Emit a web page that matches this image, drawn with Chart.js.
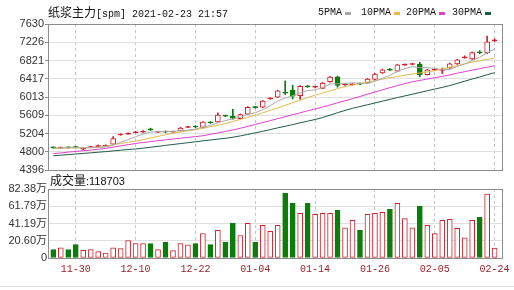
<!DOCTYPE html>
<html>
<head>
<meta charset="utf-8">
<title>纸浆主力 spm</title>
<script src="https://cdn.jsdelivr.net/npm/chart.js@4.4.1/dist/chart.umd.min.js"></script>
<style>
  html, body { margin: 0; padding: 0; background: #fff; }
  #wrap { position: relative; width: 514px; height: 290px; overflow: hidden; }
  canvas { position: absolute; left: 0; }
  #priceChart { top: 0; }
  #volChart { top: 180px; }
  .txt { position: absolute; white-space: nowrap; color: #111; line-height: 14px; }
  .cn { font-family: "Noto Sans CJK SC", sans-serif; font-size: 12px; }
  .mono { font-family: "Liberation Mono", monospace; font-size: 10px; }
  .num { font-family: "Liberation Sans", sans-serif; font-size: 11px; }
  .sw { position: absolute; width: 6px; height: 3px; }
  #foot { position: absolute; left: 0; top: 286px; width: 514px; height: 1px; background: #dedede; }
</style>
</head>
<body>
<div id="wrap">
  <canvas id="priceChart" width="514" height="180"></canvas>
  <canvas id="volChart" width="514" height="110"></canvas>
  <div class="txt" style="left:48px; top:5px;"><span class="cn">纸浆主力</span><span class="mono">[spm] 2021-02-23 21:57</span></div>
  <div id="legend"></div>
  <div class="txt" style="left:50px; top:173px;"><span class="cn">成交量</span><span class="num">:118703</span></div>
  <div id="foot"></div>
</div>
<script>
// trading days shown on the chart
const dates = [
  "2020-11-25", "2020-11-26", "2020-11-27", "2020-11-30", "2020-12-01", "2020-12-02",
  "2020-12-03", "2020-12-04", "2020-12-07", "2020-12-08", "2020-12-09", "2020-12-10",
  "2020-12-11", "2020-12-14", "2020-12-15", "2020-12-16", "2020-12-17", "2020-12-18",
  "2020-12-21", "2020-12-22", "2020-12-23", "2020-12-24", "2020-12-25", "2020-12-28",
  "2020-12-29", "2020-12-30", "2020-12-31", "2021-01-04", "2021-01-05", "2021-01-06",
  "2021-01-07", "2021-01-08", "2021-01-11", "2021-01-12", "2021-01-13", "2021-01-14",
  "2021-01-15", "2021-01-18", "2021-01-19", "2021-01-20", "2021-01-21", "2021-01-22",
  "2021-01-25", "2021-01-26", "2021-01-27", "2021-01-28", "2021-01-29", "2021-02-01",
  "2021-02-02", "2021-02-03", "2021-02-04", "2021-02-05", "2021-02-08", "2021-02-09",
  "2021-02-10", "2021-02-18", "2021-02-19", "2021-02-22", "2021-02-23", "2021-02-24",
];

const opens = [
  4900, 4880, 4900, 4905, 4858, 4895, 4915, 4922, 4970, 5172, 5190, 5222,
  5232, 5300, 5232, 5250, 5232, 5262, 5338, 5362, 5340, 5458, 5460, 5602,
  5592, 5535, 5630, 5792, 5785, 5970, 6010, 6118, 6165, 6040, 6252, 6228,
  6205, 6350, 6460, 6278, 6280, 6312, 6325, 6400, 6545, 6626, 6585, 6716,
  6732, 6740, 6510, 6606, 6604, 6655, 6745, 6880, 6855, 7008, 6990, 7255,
];
const highs = [
  4910, 4905, 4908, 4920, 4880, 4920, 4950, 4955, 5135, 5200, 5222, 5255,
  5268, 5322, 5252, 5262, 5256, 5342, 5366, 5376, 5466, 5468, 5665, 5612,
  5740, 5640, 5800, 5808, 5935, 5995, 6165, 6370, 6275, 6265, 6268, 6255,
  6335, 6470, 6475, 6305, 6310, 6322, 6425, 6535, 6630, 6645, 6740, 6745,
  6760, 6780, 6625, 6635, 6655, 6765, 6850, 6925, 7010, 7040, 7365, 7300,
];
const lows = [
  4875, 4872, 4880, 4885, 4845, 4888, 4910, 4915, 4960, 5165, 5185, 5215,
  5228, 5268, 5225, 5222, 5228, 5255, 5332, 5334, 5330, 5425, 5450, 5575,
  5520, 5525, 5620, 5765, 5775, 5962, 6000, 6070, 5970, 5960, 6225, 6215,
  6195, 6340, 6230, 6270, 6275, 6285, 6315, 6390, 6535, 6595, 6575, 6710,
  6725, 6460, 6500, 6600, 6530, 6645, 6735, 6870, 6845, 6970, 6975, 7240,
];
const closes = [
  4885, 4895, 4888, 4893, 4870, 4910, 4930, 4936, 5090, 5190, 5206, 5240,
  5246, 5284, 5245, 5236, 5246, 5322, 5354, 5348, 5455, 5442, 5615, 5588,
  5545, 5625, 5785, 5778, 5920, 5988, 6150, 6100, 6030, 6250, 6238, 6242,
  6320, 6455, 6270, 6292, 6296, 6298, 6410, 6520, 6615, 6610, 6725, 6732,
  6746, 6510, 6615, 6622, 6620, 6750, 6835, 6900, 6995, 6994, 7235, 7270,
];
const volumes = [
  100000, 120000, 100000, 160000, 92000, 100000, 76000, 60000, 120000, 112000, 209000, 172000,
  172000, 172000, 100000, 189000, 88000, 172000, 157000, 172000, 293000, 160000, 329000, 189000,
  413000, 269000, 413000, 189000, 389000, 317000, 389000, 775000, 654000, 534000, 654000, 522000,
  534000, 534000, 570000, 361000, 450000, 329000, 522000, 534000, 546000, 582000, 654000, 470000,
  361000, 618000, 389000, 293000, 450000, 462000, 353000, 241000, 450000, 486000, 763000, 118703,
];

// moving averages
const ma5 = [
  4885, 4887, 4889, 4891, 4887, 4891, 4898, 4907, 4946, 5011, 5071, 5132,
  5195, 5234, 5244, 5250, 5251, 5267, 5281, 5302, 5345, 5384, 5443, 5490,
  5529, 5563, 5632, 5665, 5731, 5819, 5924, 5989, 6039, 6104, 6154, 6172,
  6216, 6301, 6305, 6315, 6326, 6322, 6313, 6363, 6428, 6491, 6576, 6640,
  6685, 6664, 6665, 6644, 6622, 6623, 6688, 6745, 6820, 6895, 6990, 7077,
];
const ma10 = [
  4873, 4878, 4882, 4887, 4891, 4895, 4902, 4924, 4955, 4983, 5010, 5036,
  5070, 5105, 5140, 5175, 5210, 5240, 5262, 5285, 5320, 5355, 5388, 5421,
  5470, 5516, 5562, 5608, 5663, 5718, 5773, 5828, 5885, 5943, 6000, 6055,
  6101, 6149, 6198, 6244, 6277, 6310, 6343, 6376, 6407, 6438, 6466, 6497,
  6521, 6545, 6570, 6594, 6631, 6671, 6708, 6748, 6785, 6816, 6847, 6875,
];
const ma20 = [
  4759, 4774, 4792, 4807, 4823, 4838, 4854, 4876, 4902, 4931, 4957, 4983,
  5005, 5025, 5045, 5063, 5082, 5100, 5118, 5135, 5155, 5186, 5217, 5250,
  5283, 5320, 5362, 5404, 5448, 5489, 5533, 5577, 5621, 5663, 5707, 5749,
  5791, 5837, 5883, 5929, 5976, 6024, 6075, 6123, 6171, 6220, 6266, 6310,
  6350, 6380, 6411, 6440, 6471, 6501, 6541, 6574, 6607, 6640, 6673, 6706,
];
const ma30 = [
  4711, 4724, 4737, 4750, 4763, 4777, 4790, 4803, 4818, 4834, 4849, 4862,
  4880, 4900, 4920, 4942, 4961, 4981, 5001, 5021, 5041, 5060, 5080, 5098,
  5122, 5151, 5184, 5219, 5254, 5291, 5329, 5364, 5401, 5441, 5478, 5514,
  5558, 5610, 5665, 5716, 5762, 5802, 5841, 5881, 5921, 5960, 6000, 6037,
  6075, 6112, 6152, 6189, 6226, 6266, 6314, 6363, 6411, 6457, 6506, 6552,
];

const maNames = ["5PMA", "10PMA", "20PMA", "30PMA"];
const xTickIdx = [3, 11, 19, 27, 35, 43, 51, 59];
const priceTicks = [4396, 4800, 5204, 5609, 6013, 6417, 6821, 7226, 7630];
const volTicks = [0, 206000, 411900, 617900, 823800];
const volTickLabels = ["0", "20.60万", "41.19万", "61.79万", "82.38万"];

const UP = "#d0202a";
const DOWN = "#0a7d0a";
const maColors = ["#a9a9a9", "#e0bb4c", "#e03fcf", "#1f5a4a"];
const legendX = [318, 361, 406, 452];

const isUp = (i) => closes[i] >= opens[i];
const dirColor = (c) => (isUp(c.dataIndex || 0) ? UP : DOWN);
const pts = (arr) => arr.map((v, i) => ({ x: i, y: v }));

// legend: text followed by a small colour swatch
const legend = document.getElementById("legend");
maNames.forEach((name, k) => {
  const t = document.createElement("div");
  t.className = "txt mono";
  t.style.left = legendX[k] + "px";
  t.style.top = "6px";
  t.textContent = name;
  legend.appendChild(t);
  const sw = document.createElement("div");
  sw.className = "sw";
  sw.style.left = legendX[k] + name.length * 6 + 3 + "px";
  sw.style.top = "12px";
  sw.style.background = maColors[k];
  legend.appendChild(sw);
});

// grey frame around each plot area
const framePlugin = {
  id: "frame",
  afterDraw(chart) {
    const { ctx, chartArea: a } = chart;
    ctx.save();
    ctx.strokeStyle = "#8c8c8c";
    ctx.lineWidth = 1;
    ctx.strokeRect(a.left + 0.5, a.top + 0.5, a.right - a.left - 1, a.bottom - a.top);
    ctx.restore();
  },
};

const tickFont = { family: "'Liberation Sans', 'Noto Sans CJK SC', sans-serif", size: 11 };

function xScale(showLabels) {
  return {
    type: "linear",
    offset: false,
    min: -0.71,
    max: 60.12,
    afterBuildTicks: (s) => {
      s.ticks = xTickIdx.map((v) => ({ value: v }));
    },
    afterFit: (s) => {
      s.height = showLabels ? 20 : 0;
      s.paddingLeft = 0;
      s.paddingRight = 0;
    },
    ticks: {
      display: showLabels,
      autoSkip: false,
      maxRotation: 0,
      padding: 5,
      color: "#9b2226",
      font: { family: "'Liberation Mono', monospace", size: 10 },
      callback: (v) => dates[v].slice(5),
    },
    grid: { color: "#c4c4c4", drawTicks: false, offset: false },
    border: { display: false, dash: [3, 3] },
  };
}

const baseOptions = {
  responsive: false,
  animation: false,
  devicePixelRatio: 1,
  plugins: { legend: { display: false }, tooltip: { enabled: false } },
};

// price panel: candles + moving averages
new Chart(document.getElementById("priceChart"), {
  type: "bar",
  data: {
    datasets: [
      {
        data: dates.map((d, i) => ({ x: i, y: [lows[i], highs[i]] })),
        barThickness: 1,
        borderWidth: 0,
        grouped: false,
        backgroundColor: dirColor,
        order: 3,
      },
      {
        data: dates.map((d, i) => ({ x: i, y: [opens[i], closes[i]] })),
        barThickness: 5,
        borderWidth: 1,
        borderSkipped: false,
        minBarLength: 1,
        grouped: false,
        borderColor: dirColor,
        backgroundColor: (c) => {
          const i = c.dataIndex || 0;
          if (!isUp(i)) return DOWN;
          return Math.abs(closes[i] - opens[i]) < 45 ? UP : "#fff";
        },
        order: 2,
      },
      ...[ma5, ma10, ma20, ma30].map((arr, k) => ({
        type: "line",
        label: maNames[k],
        data: pts(arr),
        borderColor: maColors[k],
        borderWidth: 1,
        pointRadius: 0,
        tension: 0,
        order: 1,
      })),
    ],
  },
  options: {
    ...baseOptions,
    layout: { padding: { top: 24, right: 11, bottom: 10, left: 0 } },
    scales: {
      x: xScale(false),
      y: {
        min: 4396,
        max: 7630,
        afterBuildTicks: (s) => {
          s.ticks = priceTicks.map((v) => ({ value: v }));
        },
        afterFit: (s) => {
          s.width = 48;
        },
        ticks: { color: "#333", font: tickFont, padding: 1, callback: (v) => String(v) },
        grid: { color: "#e0e0e0", tickColor: "#8c8c8c", tickLength: 3 },
        border: { display: false },
      },
    },
  },
  plugins: [framePlugin],
});

// volume panel
new Chart(document.getElementById("volChart"), {
  type: "bar",
  data: {
    datasets: [
      {
        data: pts(volumes),
        barThickness: 5,
        borderWidth: 1,
        borderSkipped: false,
        grouped: false,
        borderColor: dirColor,
        backgroundColor: (c) => (isUp(c.dataIndex || 0) ? "#fff" : DOWN),
      },
    ],
  },
  options: {
    ...baseOptions,
    layout: { padding: { top: 9, right: 11, bottom: 12, left: 0 } },
    scales: {
      x: xScale(true),
      y: {
        min: 0,
        max: 823800,
        afterBuildTicks: (s) => {
          s.ticks = volTicks.map((v) => ({ value: v }));
        },
        afterFit: (s) => {
          s.width = 48;
        },
        ticks: {
          color: "#333",
          font: tickFont,
          padding: 1,
          callback: (v) => volTickLabels[volTicks.indexOf(v)],
        },
        grid: { color: "#e0e0e0", drawTicks: false },
        border: { display: false },
      },
    },
  },
  plugins: [framePlugin],
});
</script>
</body>
</html>
